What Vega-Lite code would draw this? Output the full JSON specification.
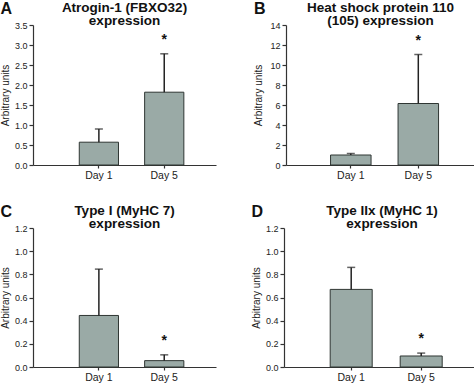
{
  "$schema": "https://vega.github.io/schema/vega-lite/v6.json",
  "padding": {"left": 0, "top": 0, "right": 0, "bottom": 0},
  "background": "white",
  "config": {
    "font": "Liberation Sans",
    "view": {"stroke": null},
    "axis": {"domainColor": "#333", "tickColor": "#333", "labelColor": "#222", "titleColor": "#222", "grid": false, "domainWidth": 1.2, "tickWidth": 1.2, "labelOverlap": false},
    "title": {"font": "Liberation Sans", "fontWeight": "bold", "color": "#111"}
  },
  "data": {"values": [
    {"panel": "A", "day": "Day 1", "mean": 0.57, "upper": 0.9, "sig": ""},
    {"panel": "A", "day": "Day 5", "mean": 1.82, "upper": 2.78, "sig": "*"},
    {"panel": "B", "day": "Day 1", "mean": 1.0, "upper": 1.15, "sig": ""},
    {"panel": "B", "day": "Day 5", "mean": 6.15, "upper": 11.05, "sig": "*"},
    {"panel": "C", "day": "Day 1", "mean": 0.445, "upper": 0.845, "sig": ""},
    {"panel": "C", "day": "Day 5", "mean": 0.055, "upper": 0.105, "sig": "*"},
    {"panel": "D", "day": "Day 1", "mean": 0.67, "upper": 0.86, "sig": ""},
    {"panel": "D", "day": "Day 5", "mean": 0.095, "upper": 0.12, "sig": "*"}
  ]},
  "vconcat": [
    {"hconcat": [
      {"title": {"text": "A", "anchor": "start", "fontSize": 16, "offset": -16},
       "vconcat": [{
        "width": 183, "height": 140,
        "title": {"text": ["Atrogin-1 (FBXO32)", "expression"], "fontSize": 13.5, "lineHeight": 13, "offset": -6},
        "transform": [{"filter": "datum.panel === 'A'"}],
        "encoding": {
          "x": {"field": "day", "type": "nominal", "scale": {"paddingInner": 0.4, "paddingOuter": 0.6, "align": 0.59}, "axis": {"title": null, "labelAngle": 0, "labelFontSize": 10.5, "tickSize": 3, "labelPadding": 2}},
          "y": {"field": "mean", "type": "quantitative", "scale": {"domain": [0, 3.5]}, "axis": {"title": "Arbitrary units", "values": [0, 0.5, 1, 1.5, 2, 2.5, 3, 3.5], "format": ".1f", "labelOverlap": false, "labelFontSize": 9, "titleFontSize": 10, "titleFontWeight": "normal", "tickSize": 4, "titlePadding": 4}}
        },
        "layer": [
          {"mark": {"type": "bar", "fill": "#9aaaa6", "stroke": "#2f3633", "strokeWidth": 1}},
          {"mark": {"type": "rule", "color": "#222", "strokeWidth": 1.5}, "encoding": {"y2": {"field": "upper"}}},
          {"mark": {"type": "tick", "color": "#222", "size": 8, "thickness": 1.5}, "encoding": {"y": {"field": "upper", "type": "quantitative"}}},
          {"mark": {"type": "text", "fontSize": 14, "fontWeight": "bold", "dy": -14, "baseline": "middle", "color": "#111"}, "encoding": {"y": {"field": "upper", "type": "quantitative"}, "text": {"field": "sig"}}}
        ]
      }]},
      {"title": {"text": "B", "anchor": "start", "fontSize": 16, "offset": -16},
       "vconcat": [{
        "width": 189, "height": 140,
        "title": {"text": ["Heat shock protein 110", "(105) expression"], "fontSize": 13.5, "lineHeight": 13, "offset": -6},
        "transform": [{"filter": "datum.panel === 'B'"}],
        "encoding": {
          "x": {"field": "day", "type": "nominal", "scale": {"paddingInner": 0.4, "paddingOuter": 0.6, "align": 0.55}, "axis": {"title": null, "labelAngle": 0, "labelFontSize": 10.5, "tickSize": 3, "labelPadding": 2}},
          "y": {"field": "mean", "type": "quantitative", "scale": {"domain": [0, 14]}, "axis": {"title": "Arbitrary units", "values": [0, 2, 4, 6, 8, 10, 12, 14], "format": "d", "labelOverlap": false, "labelFontSize": 9, "titleFontSize": 10, "titleFontWeight": "normal", "tickSize": 4, "titlePadding": 6}}
        },
        "layer": [
          {"mark": {"type": "bar", "fill": "#9aaaa6", "stroke": "#2f3633", "strokeWidth": 1}},
          {"mark": {"type": "rule", "color": "#222", "strokeWidth": 1.5}, "encoding": {"y2": {"field": "upper"}}},
          {"mark": {"type": "tick", "color": "#222", "size": 8, "thickness": 1.5}, "encoding": {"y": {"field": "upper", "type": "quantitative"}}},
          {"mark": {"type": "text", "fontSize": 14, "fontWeight": "bold", "dy": -14, "baseline": "middle", "color": "#111"}, "encoding": {"y": {"field": "upper", "type": "quantitative"}, "text": {"field": "sig"}}}
        ]
      }]}
    ], "spacing": 37},
    {"hconcat": [
      {"title": {"text": "C", "anchor": "start", "fontSize": 16, "offset": -16},
       "vconcat": [{
        "width": 183, "height": 139,
        "title": {"text": ["Type I (MyHC 7)", "expression"], "fontSize": 13.5, "lineHeight": 13, "offset": -6},
        "transform": [{"filter": "datum.panel === 'C'"}],
        "encoding": {
          "x": {"field": "day", "type": "nominal", "scale": {"paddingInner": 0.4, "paddingOuter": 0.6, "align": 0.59}, "axis": {"title": null, "labelAngle": 0, "labelFontSize": 10.5, "tickSize": 3, "labelPadding": 2}},
          "y": {"field": "mean", "type": "quantitative", "scale": {"domain": [0, 1.2]}, "axis": {"title": "Arbitrary units", "values": [0, 0.2, 0.4, 0.6, 0.8, 1.0, 1.2], "format": ".1f", "labelOverlap": false, "labelFontSize": 9, "titleFontSize": 10, "titleFontWeight": "normal", "tickSize": 4, "titlePadding": 4}}
        },
        "layer": [
          {"mark": {"type": "bar", "fill": "#9aaaa6", "stroke": "#2f3633", "strokeWidth": 1}},
          {"mark": {"type": "rule", "color": "#222", "strokeWidth": 1.5}, "encoding": {"y2": {"field": "upper"}}},
          {"mark": {"type": "tick", "color": "#222", "size": 8, "thickness": 1.5}, "encoding": {"y": {"field": "upper", "type": "quantitative"}}},
          {"mark": {"type": "text", "fontSize": 14, "fontWeight": "bold", "dy": -14, "baseline": "middle", "color": "#111"}, "encoding": {"y": {"field": "upper", "type": "quantitative"}, "text": {"field": "sig"}}}
        ]
      }]},
      {"title": {"text": "D", "anchor": "start", "fontSize": 16, "offset": -16},
       "vconcat": [{
        "width": 196, "height": 139,
        "title": {"text": ["Type IIx (MyHC 1)", "expression"], "fontSize": 13.5, "lineHeight": 13, "offset": -6},
        "transform": [{"filter": "datum.panel === 'D'"}],
        "encoding": {
          "x": {"field": "day", "type": "nominal", "scale": {"paddingInner": 0.4, "paddingOuter": 0.6, "align": 0.55}, "axis": {"title": null, "labelAngle": 0, "labelFontSize": 10.5, "tickSize": 3, "labelPadding": 2}},
          "y": {"field": "mean", "type": "quantitative", "scale": {"domain": [0, 1.2]}, "axis": {"title": "Arbitrary units", "values": [0, 0.2, 0.4, 0.6, 0.8, 1.0, 1.2], "format": ".1f", "labelOverlap": false, "labelFontSize": 9, "titleFontSize": 10, "titleFontWeight": "normal", "tickSize": 4, "titlePadding": 4}}
        },
        "layer": [
          {"mark": {"type": "bar", "fill": "#9aaaa6", "stroke": "#2f3633", "strokeWidth": 1}},
          {"mark": {"type": "rule", "color": "#222", "strokeWidth": 1.5}, "encoding": {"y2": {"field": "upper"}}},
          {"mark": {"type": "tick", "color": "#222", "size": 8, "thickness": 1.5}, "encoding": {"y": {"field": "upper", "type": "quantitative"}}},
          {"mark": {"type": "text", "fontSize": 14, "fontWeight": "bold", "dy": -14, "baseline": "middle", "color": "#111"}, "encoding": {"y": {"field": "upper", "type": "quantitative"}, "text": {"field": "sig"}}}
        ]
      }]}
    ], "spacing": 35}
  ],
  "spacing": 22
}
